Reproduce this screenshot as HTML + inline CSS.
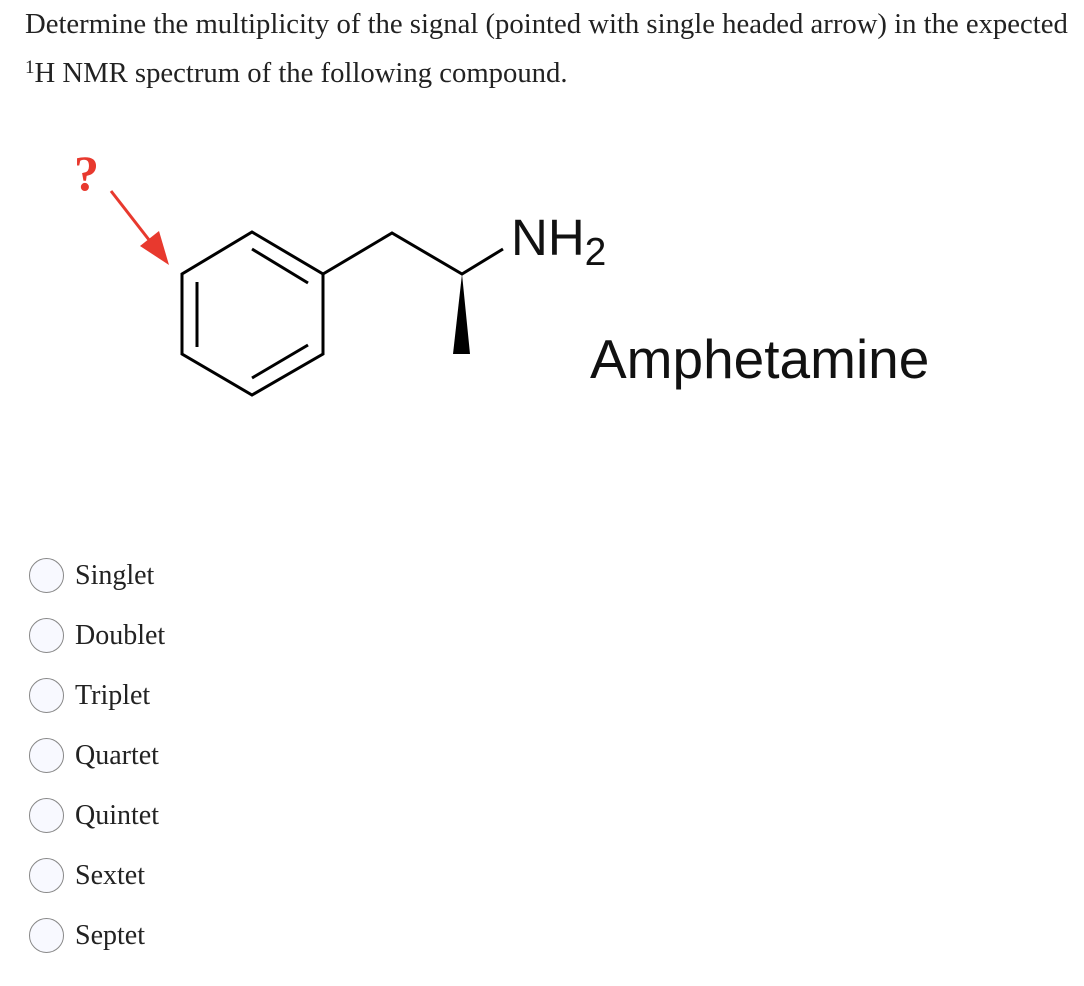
<!DOCTYPE html>
<html><head><meta charset="utf-8"><style>
body{margin:0;background:#fff;width:1084px;height:986px;position:relative;overflow:hidden;font-family:"Liberation Serif",serif;color:#222;}
.t{position:absolute;left:25px;font-size:28.7px;white-space:nowrap;line-height:1;}
.opt{position:absolute;left:29px;height:36px;}
.opt .c{position:absolute;left:0;top:0;width:33px;height:33px;border:1px solid #888;border-radius:50%;background:#f8f9ff;}
.opt span{position:absolute;left:46px;top:2px;font-size:28px;white-space:nowrap;}
</style></head><body>
<div class="t" style="top:10px;">Determine the multiplicity of the signal (pointed with single headed arrow) in the expected</div>
<div class="t" style="top:58px;"><sup style="font-size:19px;vertical-align:9px;">1</sup>H NMR spectrum of the following compound.</div>
<svg width="1084" height="500" style="position:absolute;left:0;top:0">
<g stroke="#000" stroke-width="3" fill="none" stroke-linejoin="miter">
<polygon points="252,232 323,274 323,354 252,395 182,354 182,274"/>
<line x1="252" y1="249" x2="308" y2="283"/>
<line x1="197" y1="282" x2="197" y2="347"/>
<line x1="252" y1="378" x2="308" y2="345"/>
<polyline points="323,274 392,233 462,274 503,249"/>
</g>
<polygon points="462,274 453,354 470,354" fill="#000"/>
<line x1="111" y1="191" x2="160" y2="254" stroke="#e8392e" stroke-width="3"/>
<polygon points="169,265 140,246 159,231" fill="#e8392e"/>
<text x="74" y="190" font-family="Liberation Serif,serif" font-weight="bold" font-size="50" fill="#e8392e">?</text>
<text x="511" y="255" font-family="Liberation Sans,sans-serif" font-size="51" fill="#111">NH<tspan font-size="39" dy="10">2</tspan></text>
<text x="590" y="378" font-family="Liberation Sans,sans-serif" font-size="55" fill="#111">Amphetamine</text>
</svg>
<div class="opt" style="top:558px"><div class="c"></div><span>Singlet</span></div>
<div class="opt" style="top:618px"><div class="c"></div><span>Doublet</span></div>
<div class="opt" style="top:678px"><div class="c"></div><span>Triplet</span></div>
<div class="opt" style="top:738px"><div class="c"></div><span>Quartet</span></div>
<div class="opt" style="top:798px"><div class="c"></div><span>Quintet</span></div>
<div class="opt" style="top:858px"><div class="c"></div><span>Sextet</span></div>
<div class="opt" style="top:918px"><div class="c"></div><span>Septet</span></div>
</body></html>
